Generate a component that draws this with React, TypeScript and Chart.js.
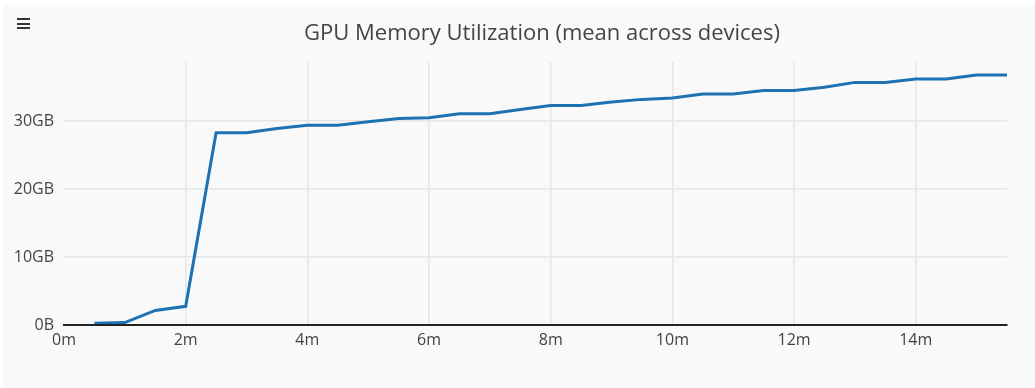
import React, { useEffect, useRef } from "react";
import { Chart, registerables } from "chart.js";

Chart.register(...registerables);

const TITLE = "GPU Memory Utilization (mean across devices)";
const minutes = [0.5, 1, 1.5, 2, 2.5, 3, 3.5, 4, 4.5, 5, 5.5, 6, 6.5, 7, 7.5, 8, 8.5, 9, 9.5, 10, 10.5, 11, 11.5, 12, 12.5, 13, 13.5, 14, 14.5, 15, 15.5];
const memoryGB = [0.25, 0.35, 2.15, 2.75, 28.3, 28.3, 28.9, 29.4, 29.4, 29.9, 30.4, 30.5, 31.1, 31.1, 31.7, 32.3, 32.3, 32.8, 33.2, 33.4, 34.0, 34.0, 34.5, 34.5, 35.0, 35.7, 35.7, 36.2, 36.2, 36.8, 36.8];
const X_MAX = 15.5;
const Y_MAX = 38.7;

const FONT = "'Open Sans', 'Noto Sans', sans-serif";
const TEXT = "#444";

const bgPlugin = {
  id: "bg",
  beforeDraw(chart: any) {
    const { ctx, width, height } = chart;
    ctx.save();
    ctx.fillStyle = "#ffffff";
    ctx.fillRect(0, 0, width, height);
    ctx.fillStyle = "#f9f9f9";
    ctx.fillRect(3, 5, width - 3, height - 5);
    ctx.restore();
  },
};

export default function App() {
  const ref = useRef<HTMLCanvasElement>(null);
  useEffect(() => {
    if (!ref.current) return;
    const chart = new Chart(ref.current, {
      type: "line",
      data: {
        datasets: [
          {
            label: "GPU memory",
            data: minutes.map((m, i) => ({ x: m, y: memoryGB[i] })),
            borderColor: "#1c72b2",
            borderWidth: 3,
            pointRadius: 0,
            tension: 0,
            fill: false,
          },
        ],
      },
      options: {
        animation: false,
        responsive: false,
        layout: { padding: { top: 62, right: 28, left: 0, bottom: 0 } },
        plugins: {
          legend: { display: false },
          title: { display: false },
          tooltip: { enabled: false },
        },
        scales: {
          x: {
            type: "linear",
            min: 0,
            max: X_MAX,
            afterFit: (s: any) => {
              s.height = 63;
            },
            ticks: {
              stepSize: 2,
              includeBounds: false,
              padding: 6,
              color: TEXT,
              font: { family: FONT, size: 16 },
              maxRotation: 0,
              callback: (v: any) => `${v}m`,
            },
            grid: {
              drawTicks: false,
              lineWidth: 1.5,
              color: (c: any) => (c.tick && c.tick.value === 0 ? "rgba(0,0,0,0)" : "#e6e6e6"),
            },
            border: { display: true, color: "#222", width: 2, z: 1 },
          },
          y: {
            min: 0,
            max: Y_MAX,
            afterFit: (s: any) => {
              s.width = 64;
            },
            ticks: {
              stepSize: 10,
              includeBounds: false,
              padding: 10,
              color: TEXT,
              font: { family: FONT, size: 16 },
              callback: (v: any) => (v === 0 ? "0B" : `${v}GB`),
            },
            grid: {
              drawTicks: false,
              lineWidth: 1.5,
              color: "#e6e6e6",
            },
            border: { display: false },
          },
        },
      },
      plugins: [bgPlugin],
    });
    return () => chart.destroy();
  }, []);

  return (
    <div style={{ position: "absolute", left: 0, top: 0, width: 1035, height: 388 }}>
      <canvas ref={ref} width={1035} height={388} style={{ display: "block" }} />
      <div
        style={{
          position: "absolute",
          left: 0,
          width: 1084,
          top: 16,
          textAlign: "center",
          fontFamily: FONT,
          fontSize: 22,
          lineHeight: "30px",
          color: TEXT,
          whiteSpace: "nowrap",
        }}
      >
        {TITLE}
      </div>
      <div style={{ position: "absolute", left: 17, top: 18, width: 13 }}>
        <div style={{ height: 2, background: "#333", marginBottom: 2.5 }} />
        <div style={{ height: 2, background: "#333", marginBottom: 2.5 }} />
        <div style={{ height: 2, background: "#333" }} />
      </div>
    </div>
  );
}
